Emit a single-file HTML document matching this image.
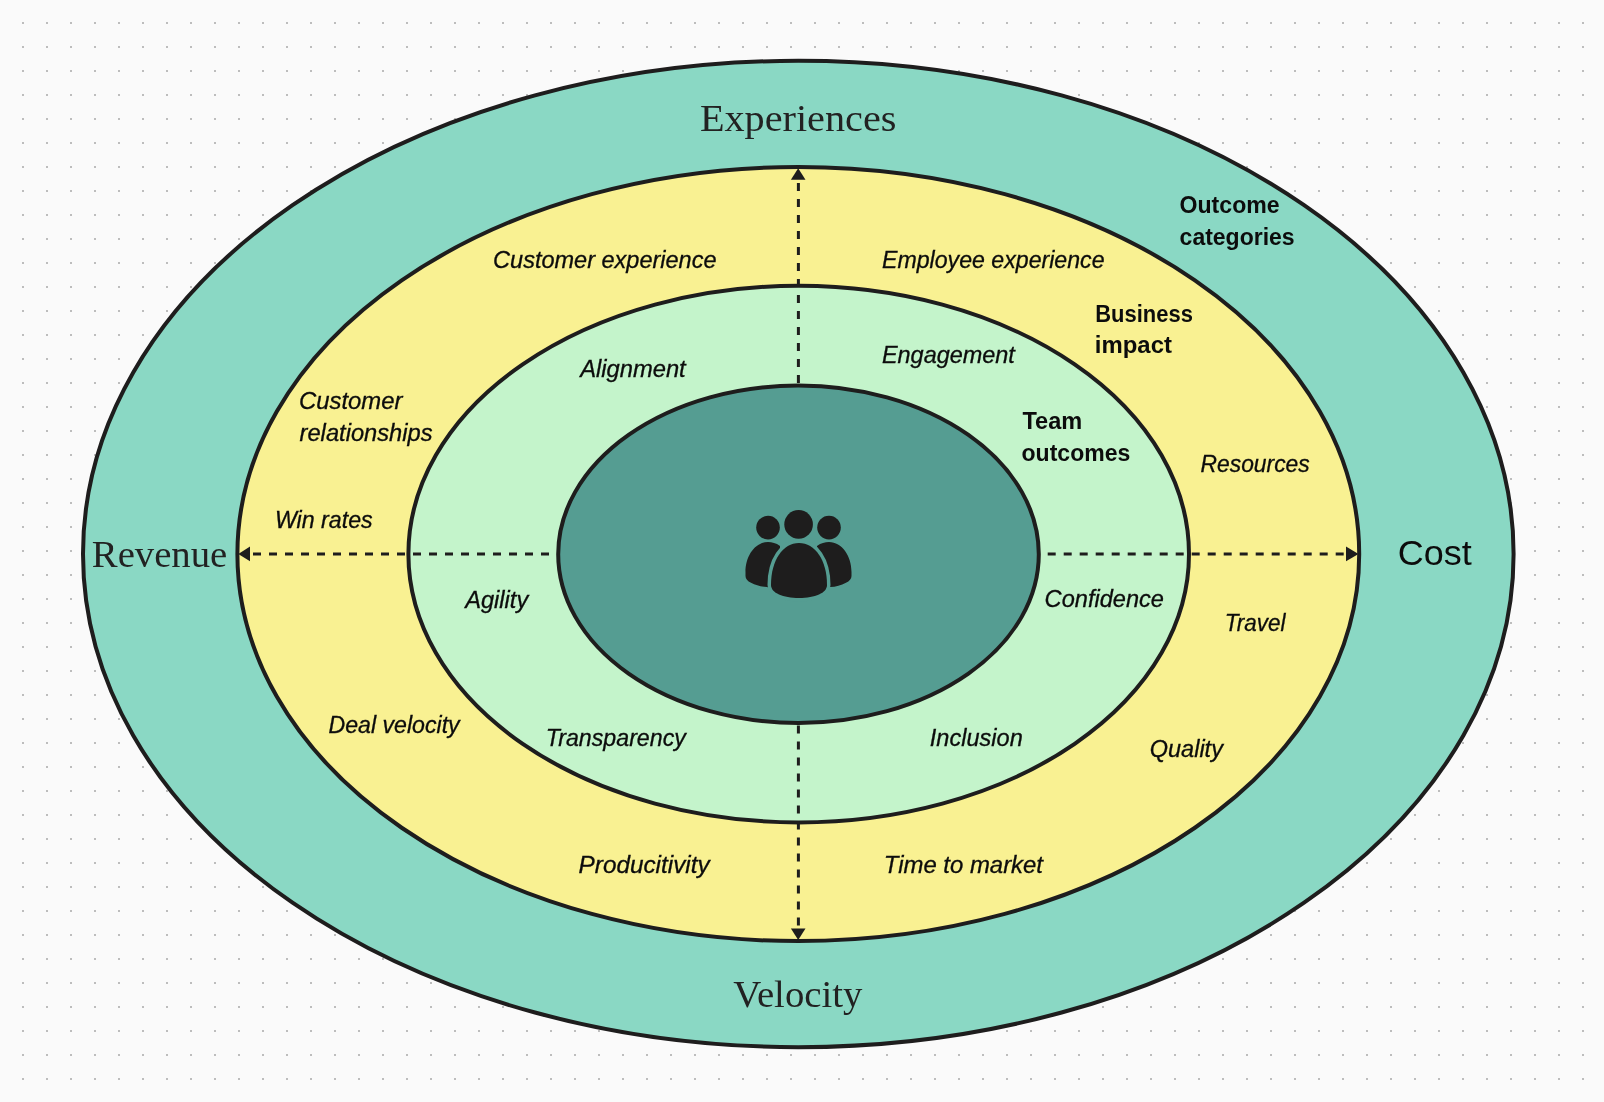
<!DOCTYPE html>
<html><head><meta charset="utf-8">
<style>
html,body{margin:0;padding:0;background:#fafafa;}
body{width:1604px;height:1102px;overflow:hidden;}
svg{display:block;will-change:transform;}
.s{font-family:"Liberation Serif",serif;fill:#222;}
.c{font-family:"Liberation Sans",sans-serif;fill:#0c0c0c;}
.i{font-family:"Liberation Sans",sans-serif;font-style:italic;font-size:23px;fill:#0c0c0c;stroke:#0c0c0c;stroke-width:0.3px;}
.b{font-family:"Liberation Sans",sans-serif;font-weight:bold;font-size:23.5px;fill:#0c0c0c;}
</style></head>
<body>
<svg width="1604" height="1102" viewBox="0 0 1604 1102">
<defs>
<pattern id="dots" x="22" y="22" width="24" height="24" patternUnits="userSpaceOnUse"><rect width="2" height="2" fill="#bdbdbd"/></pattern>
</defs>
<rect width="1604" height="1102" fill="#fafafa"/>
<rect width="1604" height="1102" fill="url(#dots)"/>
<g id="shapes" stroke="#1e1d1d" stroke-width="4">
<ellipse cx="798.3" cy="553.97" rx="715.3" ry="493.2" fill="#8ad8c4"/>
<ellipse cx="798.3" cy="554.05" rx="560.9" ry="387.05" fill="#f9f192"/>
<ellipse cx="798.7" cy="554.1" rx="390.3" ry="268.3" fill="#c4f4cb"/>
<ellipse cx="798.5" cy="554.25" rx="240.3" ry="168.75" fill="#559d92"/>
</g>
<g id="lines" stroke="#1e1d1d" stroke-width="3" stroke-dasharray="8 8" fill="none">
<line x1="798.4" y1="383" x2="798.4" y2="178"/>
<line x1="798.4" y1="725.5" x2="798.4" y2="930"/>
<line x1="549" y1="553.9" x2="242" y2="553.9"/>
<line x1="1047.7" y1="553.9" x2="1348" y2="553.9"/>
</g>
<g id="heads" fill="#1e1d1d">
<path d="M798.2,168.2 L805.5,179.8 L790.9,179.8 Z"/>
<path d="M798.2,940 L805.5,928.5 L790.9,928.5 Z"/>
<path d="M238.3,553.9 L250,546.5 L250,561.2 Z"/>
<path d="M1358.5,553.9 L1346,546.5 L1346,561.2 Z"/>
</g>
<g id="icon" fill="#1e1d1d">
<circle cx="798.6" cy="524.4" r="14.3"/>
<circle cx="768" cy="527.6" r="11.8"/>
<circle cx="829" cy="527.6" r="11.8"/>
<path d="M780,546 C776,543 772,542 768,542 C755,542 745.5,556 745.5,572 L745.5,576 C745.5,579 747.5,581 751,582.8 C756,585.2 761,587 767,587 L780,592 Z"/>
<path d="M817,546 C821,543 825,542 829,542 C842,542 851.5,556 851.5,572 L851.5,576 C851.5,579 849.5,581 846,582.8 C841,585.2 836,587 830,587 L817,592 Z"/>
<path d="M771,585 C771,560 783,543 799,543 C815,543 827,560 827,585 C827,593 815,598 799,598 C783,598 771,593 771,585 Z" stroke="#559d92" stroke-width="7"/>
<path d="M771,585 C771,560 783,543 799,543 C815,543 827,560 827,585 C827,593 815,598 799,598 C783,598 771,593 771,585 Z"/>
</g>
<g id="texts">
<text class="s" x="699.90" y="131.00" font-size="38" textLength="196.52" lengthAdjust="spacingAndGlyphs">Experiences</text>
<text class="s" x="91.82" y="566.70" font-size="37" textLength="135.47" lengthAdjust="spacingAndGlyphs">Revenue</text>
<text class="s" x="733.22" y="1007.10" font-size="37" textLength="129.17" lengthAdjust="spacingAndGlyphs">Velocity</text>
<text class="c" x="1397.71" y="564.80" font-size="35" textLength="74.03" lengthAdjust="spacingAndGlyphs">Cost</text>
<text class="b" x="1179.56" y="213.00" textLength="100.06" lengthAdjust="spacingAndGlyphs">Outcome</text>
<text class="b" x="1179.60" y="244.90" textLength="115.05" lengthAdjust="spacingAndGlyphs">categories</text>
<text class="b" x="1095.25" y="322.00" textLength="97.61" lengthAdjust="spacingAndGlyphs">Business</text>
<text class="b" x="1094.85" y="353.20" textLength="77.06" lengthAdjust="spacingAndGlyphs">impact</text>
<text class="b" x="1022.41" y="428.90" textLength="59.86" lengthAdjust="spacingAndGlyphs">Team</text>
<text class="b" x="1021.57" y="461.00" textLength="108.70" lengthAdjust="spacingAndGlyphs">outcomes</text>
<text class="i" x="493.09" y="268.00" textLength="223.44" lengthAdjust="spacingAndGlyphs">Customer experience</text>
<text class="i" x="881.97" y="268.10" textLength="222.57" lengthAdjust="spacingAndGlyphs">Employee experience</text>
<text class="i" x="881.94" y="363.30" textLength="132.94" lengthAdjust="spacingAndGlyphs">Engagement</text>
<text class="i" x="580.17" y="377.30" textLength="105.56" lengthAdjust="spacingAndGlyphs">Alignment</text>
<text class="i" x="298.99" y="409.40" textLength="103.49" lengthAdjust="spacingAndGlyphs">Customer</text>
<text class="i" x="299.56" y="441.00" textLength="133.05" lengthAdjust="spacingAndGlyphs">relationships</text>
<text class="i" x="274.92" y="528.40" textLength="97.82" lengthAdjust="spacingAndGlyphs">Win rates</text>
<text class="i" x="1200.56" y="472.00" textLength="109.12" lengthAdjust="spacingAndGlyphs">Resources</text>
<text class="i" x="1044.63" y="606.60" textLength="119.35" lengthAdjust="spacingAndGlyphs">Confidence</text>
<text class="i" x="1224.67" y="631.30" textLength="60.79" lengthAdjust="spacingAndGlyphs">Travel</text>
<text class="i" x="465.15" y="607.80" textLength="63.12" lengthAdjust="spacingAndGlyphs">Agility</text>
<text class="i" x="328.43" y="733.00" textLength="131.26" lengthAdjust="spacingAndGlyphs">Deal velocity</text>
<text class="i" x="545.81" y="746.10" textLength="140.05" lengthAdjust="spacingAndGlyphs">Transparency</text>
<text class="i" x="929.82" y="746.40" textLength="92.93" lengthAdjust="spacingAndGlyphs">Inclusion</text>
<text class="i" x="1149.73" y="757.30" textLength="73.18" lengthAdjust="spacingAndGlyphs">Quality</text>
<text class="i" x="578.61" y="872.70" textLength="130.96" lengthAdjust="spacingAndGlyphs">Producitivity</text>
<text class="i" x="883.77" y="872.70" textLength="159.24" lengthAdjust="spacingAndGlyphs">Time to market</text>
</g>
</svg>
</body></html>
